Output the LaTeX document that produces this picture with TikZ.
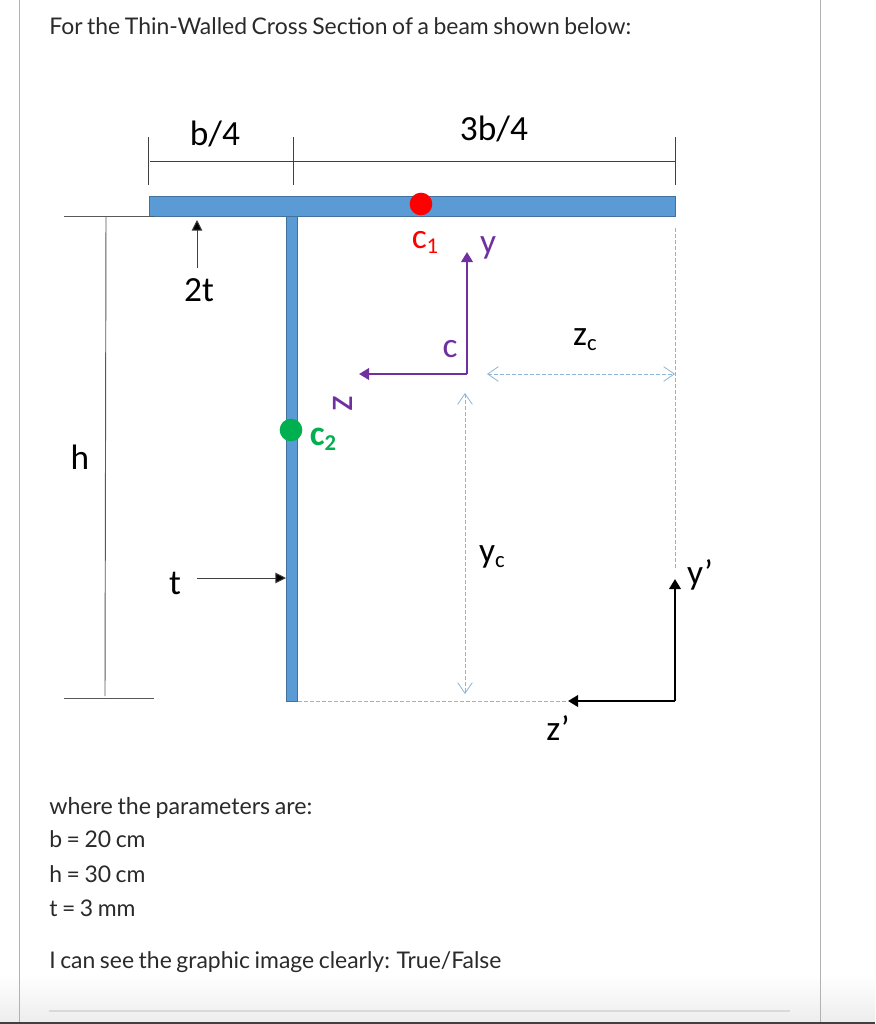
\documentclass[tikz,border=0pt]{standalone}
\usepackage{fontspec}
\setmainfont[WordSpace=0.78]{Lato}
\newfontfamily\calfont{Carlito}
\usetikzlibrary{arrows.meta}
\definecolor{beam}{HTML}{5B9BD5}
\definecolor{beamedge}{HTML}{41719C}
\definecolor{purp}{HTML}{7030A0}
\definecolor{grn}{HTML}{00B050}
\definecolor{dim}{HTML}{8DB4D9}
\definecolor{txt}{HTML}{2A2A2A}
\newcommand{\lowsub}[1]{\raisebox{-4pt}{\fontsize{17}{20}\selectfont #1}}
\tikzset{
  page/.style={inner sep=0pt,anchor=base west,text=txt,font=\fontsize{17.2}{20}\selectfont},
  lab/.style={inner sep=0pt,anchor=base,font=\calfont\fontsize{26.5}{30}\selectfont},
  thin line/.style={draw=black!75,line width=0.7pt},
  tip/.style={-{Triangle[length=8pt,width=8pt,fill=black]}},
  dimd/.style={draw=dim,line width=0.6pt,dash pattern=on 3pt off 1.5pt},
  dimarrow/.style={dimd,{Straight Barb[length=8pt,width=11pt,line width=0.6pt]}-{Straight Barb[length=8pt,width=11pt,line width=0.6pt]}},
  axis/.style={line width=2pt,-{Triangle[length=7.5pt,width=8.5pt]}},
  flange/.style={fill=beam,draw=beamedge,line width=0.6pt},
  dot/.style={circle,inner sep=0pt,minimum size=17pt}
}
\begin{document}
\begin{tikzpicture}[x=0.75pt,y=-0.75pt]
\useasboundingbox (0,0) rectangle (875,1024);
% page
\shade[top color=white,bottom color=black!7] (0,975) rectangle (875,1022);
\draw[black!30,line width=0.6pt] (19,0) -- (19,1022);
\draw[black!30,line width=0.6pt] (820,0) -- (820,1022);
\draw[black!15,line width=0.8pt] (49,1011) -- (790,1011);
\fill[black!75] (0,1022) rectangle (875,1024);
% page text
\node[page] (title) at (49,35) {For the Thin-Walled Cross Section of a beam shown below:};
\node[page,font=\fontsize{17.4}{20}\selectfont] (p0) at (49,814) {where the parameters are:};
\node[page] (p1) at (49,847) {b = 20 cm};
\node[page] (p2) at (49,882) {h = 30 cm};
\node[page] (p3) at (49,916) {t = 3 mm};
\node[page] (p4) at (49,968) {I can see the graphic image clearly: True/False};
% dashed guide lines
\coordinate (gt) at (675,228);
\coordinate (gb) at (675,568);
\coordinate (bl) at (298,701);
\coordinate (br) at (568,701);
\draw[dimd] (gt) -- (gb);
\draw[dimd] (bl) -- (br);
\coordinate (zca) at (487,374);
\coordinate (zcb) at (675,374);
\coordinate (yca) at (465,393);
\coordinate (ycb) at (465,694);
\draw[dimarrow] (zca) -- (zcb);
\draw[dimarrow] (yca) -- (ycb);
% beam
\node[flange,inner sep=0pt,anchor=north west,minimum width=394.4pt,minimum height=15pt] (fl) at (149,196) {};
\node[flange,inner sep=0pt,anchor=north west,minimum width=8.25pt,minimum height=364pt] (web) at (286,216) {};
\node[dot,fill=red] (c1) at (421,204) {};
\node[dot,fill=grn] (c2) at (291,430) {};
% dimension lines
\coordinate (d0a) at (148,137); \coordinate (d0b) at (148,185);
\coordinate (d1a) at (293,137); \coordinate (d1b) at (293,185);
\coordinate (d2a) at (675,137); \coordinate (d2b) at (675,185);
\coordinate (dl) at (150,161); \coordinate (dr) at (675,161);
\draw[thin line] (d0a) -- (d0b);
\draw[thin line] (d1a) -- (d1b);
\draw[thin line] (d2a) -- (d2b);
\draw[thin line] (dl) -- (dr);
\coordinate (ha) at (64,216); \coordinate (hb) at (154,216);
\coordinate (la) at (64,698); \coordinate (lb) at (154,698);
\coordinate (va) at (106,216); \coordinate (vb) at (105,696);
\draw[thin line,black!65] (ha) -- (hb);
\draw[thin line,black!65] (la) -- (lb);
\draw[thin line,black!65] (va) -- (vb);
\coordinate (tt) at (197,268); \coordinate (th) at (197,220);
\draw[thin line,tip] (tt) -- (th);
\coordinate (ws) at (197,578);
\draw[thin line,tip] (ws) -- (web.west |- ws);
% axes
\coordinate (cc) at (467,374);
\coordinate (cy) at (467,252);
\coordinate (cz) at (359,374);
\draw[axis,purp] (cc) -- (cy);
\draw[axis,purp] (cc) -- (cz);
\coordinate (oo) at (675,701);
\coordinate (oy) at (675,579);
\coordinate (oz) at (568,701);
\draw[axis,black] (oo) -- (oy);
\draw[axis,black] (oo) -- (oz);
% labels
\node[lab] (lb4) at (215,145) {b/4};
\node[lab] (l3b4) at (494,140) {3b/4};
\node[lab] (l2t) at (199,301) {2t};
\node[lab] (lh) at (80,469) {h};
\node[lab] (lt) at (175,594) {t};
\node[lab,text=red] (lc1) at (425,248) {c\lowsub{1}};
\node[lab,text=purp] (ly) at (488,253) {y};
\node[lab,text=purp] (lc) at (450,357) {c};
\node[lab,text=purp,rotate=90,anchor=center,font=\calfont\fontsize{30}{30}\selectfont] (lz) at (343,404) {z};
\node[lab,text=grn,font=\calfont\bfseries\fontsize{26.5}{30}\selectfont] (lc2) at (323,445) {c\lowsub{2}};
\node[lab] (lzc) at (585,345) {z\lowsub{c}};
\node[lab] (lyc) at (492,562) {y\lowsub{c}};
\node[lab] (lyp) at (700,584) {y’};
\node[lab] (lzp) at (558,740) {z’};
\end{tikzpicture}
\end{document}
